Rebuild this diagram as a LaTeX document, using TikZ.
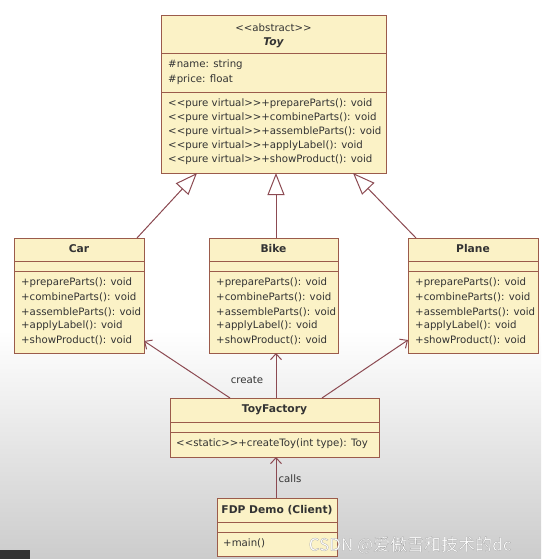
\documentclass[tikz,border=0pt]{standalone}
\usepackage{fontspec}
\setmainfont{DejaVu Sans}[Ligatures=TeXOff]
\newfontfamily\cjk{Noto Sans CJK SC}
\usetikzlibrary{arrows.meta}
\definecolor{boxc}{HTML}{FBF2C6}
\definecolor{bordc}{HTML}{9B5B4B}
\definecolor{linec}{HTML}{8C4A52}
\definecolor{txtc}{HTML}{333333}
\newcommand\fs{\fontsize{10.2}{12}\selectfont}
\newcommand\bfs{\fontsize{10.7}{12}\selectfont}
\tikzset{
  cls/.style={draw=bordc, fill=boxc, line width=1pt, anchor=north west, inner sep=0pt, outer sep=0pt},
  sepl/.style={draw=bordc, line width=0.9pt},
  txt/.style={anchor=west, inner sep=0pt, text=txtc, font=\fs},
  ttl/.style={inner sep=0pt, text=txtc, font=\bfseries\bfs},
  gen/.style={draw=linec, line width=1pt, -{Triangle[open, length=22pt, width=17pt, fill=white]}},
  dep/.style={draw=linec, line width=1pt, -{Straight Barb[length=6pt, width=11pt, line width=1pt]}},
  lbl/.style={inner sep=0pt, text=txtc, font=\fs},
}
\begin{document}
\begin{tikzpicture}[x=1pt,y=-1pt]
\useasboundingbox (0,0) rectangle (541,559);
\fill[white] (0,0) rectangle (541,330);
\shade[top color=white, bottom color=black!20] (0,330) rectangle (541,559);
\fill[black!80] (0,550) rectangle (30,559);

% Toy
\node[cls, minimum width=225pt, minimum height=157pt] (toy) at (161,16) {};
\draw[sepl] (161,53) -- (386,53);
\draw[sepl] (161,92) -- (386,92);
\node[lbl] (toyst) at (273.5,28) {<<abstract>>};
\node[ttl, font=\bfseries\itshape\bfs] (toyt) at (273.5,43) {Toy};
\node[txt] (ta1) at (168,65) {\#name: string};
\node[txt] (ta2) at (168,80) {\#price: float};
\node[txt] (tm1) at (168,104) {<<pure virtual>>+prepareParts(): void};
\node[txt] (tm2) at (168,118) {<<pure virtual>>+combineParts(): void};
\node[txt] (tm3) at (168,132) {<<pure virtual>>+assembleParts(): void};
\node[txt] (tm4) at (168,146) {<<pure virtual>>+applyLabel(): void};
\node[txt] (tm5) at (168,160) {<<pure virtual>>+showProduct(): void};

% Car
\node[cls, minimum width=130pt, minimum height=115pt] (car) at (14,238) {};
\draw[sepl] (14,261) -- (144,261);
\draw[sepl] (14,271) -- (144,271);
\node[ttl] (cart) at (79,249) {Car};
\node[txt] (cm1) at (21,283) {+prepareParts(): void};
\node[txt] (cm2) at (21,297.5) {+combineParts(): void};
\node[txt] (cm3) at (21,312) {+assembleParts(): void};
\node[txt] (cm4) at (21,326) {+applyLabel(): void};
\node[txt] (cm5) at (21,340) {+showProduct(): void};

% Bike
\node[cls, minimum width=129pt, minimum height=115pt] (bike) at (209,238) {};
\draw[sepl] (209,261) -- (338,261);
\draw[sepl] (209,271) -- (338,271);
\node[ttl] (biket) at (273.5,249) {Bike};
\node[txt] (bm1) at (216,283) {+prepareParts(): void};
\node[txt] (bm2) at (216,297.5) {+combineParts(): void};
\node[txt] (bm3) at (216,312) {+assembleParts(): void};
\node[txt] (bm4) at (216,326) {+applyLabel(): void};
\node[txt] (bm5) at (216,340) {+showProduct(): void};

% Plane
\node[cls, minimum width=130pt, minimum height=115pt] (plane) at (408,238) {};
\draw[sepl] (408,261) -- (538,261);
\draw[sepl] (408,271) -- (538,271);
\node[ttl] (planet) at (473,249) {Plane};
\node[txt] (pm1) at (415,283) {+prepareParts(): void};
\node[txt] (pm2) at (415,297.5) {+combineParts(): void};
\node[txt] (pm3) at (415,312) {+assembleParts(): void};
\node[txt] (pm4) at (415,326) {+applyLabel(): void};
\node[txt] (pm5) at (415,340) {+showProduct(): void};

% ToyFactory
\node[cls, minimum width=209pt, minimum height=59pt] (fac) at (170,398) {};
\draw[sepl] (170,422) -- (379,422);
\draw[sepl] (170,432) -- (379,432);
\node[ttl] (fact) at (274.5,410) {ToyFactory};
\node[txt] (fm1) at (176,444) {<<static>>+createToy(int type): Toy};

% FDP Demo
\node[cls, minimum width=120pt, minimum height=58pt] (fdp) at (217,498) {};
\draw[sepl] (217,522) -- (337,522);
\draw[sepl] (217,532) -- (337,532);
\node[ttl] (fdpt) at (277,510) {FDP Demo (Client)};
\node[txt] (fdm1) at (223,543) {+main()};

% generalizations
\draw[gen] ([xshift=123pt]car.north west) -- ([xshift=36pt]toy.south west);
\draw[gen] ([xshift=67pt]bike.north west) -- ([xshift=115pt]toy.south west);
\draw[gen] ([xshift=8pt]plane.north west) -- ([xshift=192pt]toy.south west);

% dependencies
\draw[dep] ([xshift=60pt]fac.north west) -- ([yshift=12pt]car.south east);
\draw[dep] ([xshift=106pt]fac.north west) -- ([xshift=67pt]bike.south west);
\draw[dep] ([xshift=152pt]fac.north west) -- ([yshift=13pt]plane.south west);
\draw[dep] ([xshift=59pt]fdp.north west) -- ([xshift=106pt]fac.south west);

\node[lbl] (create) at (247,380) {create};
\node[lbl] (calls) at (290,479) {calls};

\node[inner sep=0pt, text=white, font=\cjk\fontsize{17}{17}\selectfont] (wm) at (410,545) {\special{pdf:literal direct 2 Tr 0.22 w 0.62 0.62 0.62 RG}CSDN @爱傲雪和技术的dc\special{pdf:literal direct 0 Tr}};
\end{tikzpicture}
\end{document}
